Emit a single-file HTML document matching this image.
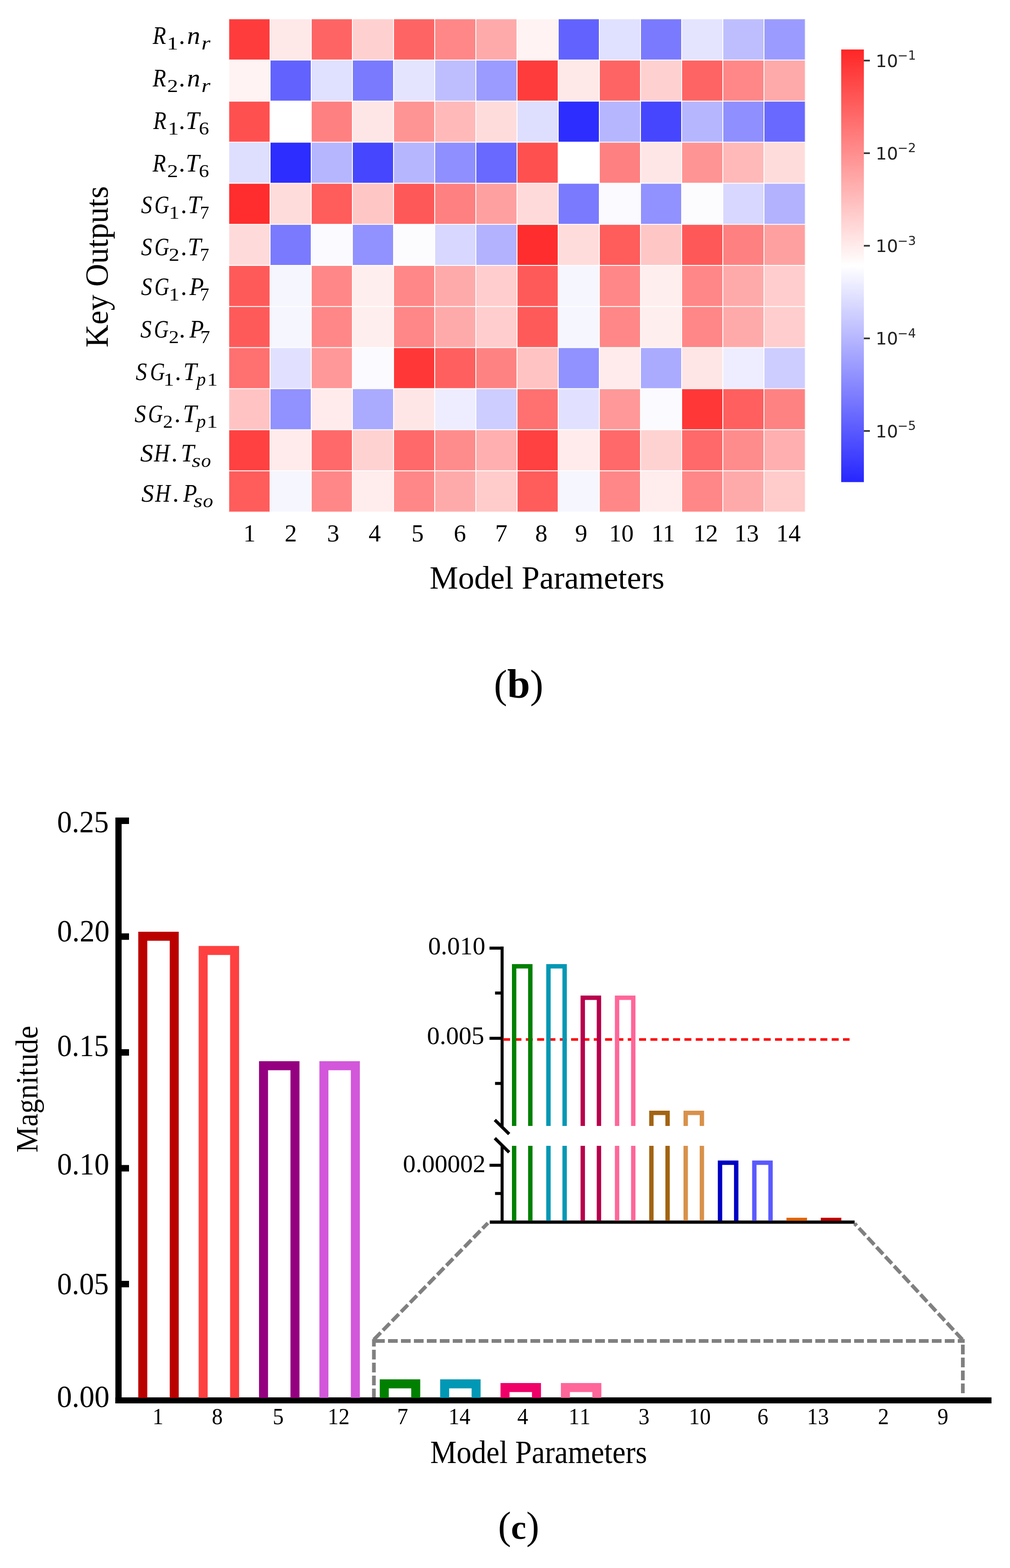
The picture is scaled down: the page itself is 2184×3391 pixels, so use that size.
<!DOCTYPE html>
<html><head><meta charset="utf-8"><title>Figure</title>
<style>
html,body{margin:0;padding:0;background:#fff;}
body{width:2184px;height:3391px;overflow:hidden;}
svg{display:block;}
</style></head>
<body>
<svg width="2184" height="3391" viewBox="0 0 2184 3391">
<rect width="2184" height="3391" fill="#fff"/>
<g id="heat">
<rect x="495.00" y="41.00" width="89.30" height="89.13" fill="#ff3c3c"/>
<rect x="584.00" y="41.00" width="89.30" height="89.13" fill="#ffe8e8"/>
<rect x="673.00" y="41.00" width="89.30" height="89.13" fill="#ff6464"/>
<rect x="762.00" y="41.00" width="89.30" height="89.13" fill="#ffd0d0"/>
<rect x="851.00" y="41.00" width="89.30" height="89.13" fill="#ff6464"/>
<rect x="940.00" y="41.00" width="89.30" height="89.13" fill="#ff8787"/>
<rect x="1029.00" y="41.00" width="89.30" height="89.13" fill="#ffaaaa"/>
<rect x="1118.00" y="41.00" width="89.30" height="89.13" fill="#fff3f3"/>
<rect x="1207.00" y="41.00" width="89.30" height="89.13" fill="#6262ff"/>
<rect x="1296.00" y="41.00" width="89.30" height="89.13" fill="#e0e0ff"/>
<rect x="1385.00" y="41.00" width="89.30" height="89.13" fill="#7a7aff"/>
<rect x="1474.00" y="41.00" width="89.30" height="89.13" fill="#e4e4ff"/>
<rect x="1563.00" y="41.00" width="89.30" height="89.13" fill="#bebeff"/>
<rect x="1652.00" y="41.00" width="89.30" height="89.13" fill="#9b9bff"/>
<rect x="495.00" y="129.83" width="89.30" height="89.13" fill="#fff3f3"/>
<rect x="584.00" y="129.83" width="89.30" height="89.13" fill="#6262ff"/>
<rect x="673.00" y="129.83" width="89.30" height="89.13" fill="#e0e0ff"/>
<rect x="762.00" y="129.83" width="89.30" height="89.13" fill="#7a7aff"/>
<rect x="851.00" y="129.83" width="89.30" height="89.13" fill="#e4e4ff"/>
<rect x="940.00" y="129.83" width="89.30" height="89.13" fill="#bebeff"/>
<rect x="1029.00" y="129.83" width="89.30" height="89.13" fill="#9b9bff"/>
<rect x="1118.00" y="129.83" width="89.30" height="89.13" fill="#ff3c3c"/>
<rect x="1207.00" y="129.83" width="89.30" height="89.13" fill="#ffe8e8"/>
<rect x="1296.00" y="129.83" width="89.30" height="89.13" fill="#ff6464"/>
<rect x="1385.00" y="129.83" width="89.30" height="89.13" fill="#ffd0d0"/>
<rect x="1474.00" y="129.83" width="89.30" height="89.13" fill="#ff6464"/>
<rect x="1563.00" y="129.83" width="89.30" height="89.13" fill="#ff8787"/>
<rect x="1652.00" y="129.83" width="89.30" height="89.13" fill="#ffaaaa"/>
<rect x="495.00" y="218.67" width="89.30" height="89.13" fill="#ff5050"/>
<rect x="584.00" y="218.67" width="89.30" height="89.13" fill="#ffffff"/>
<rect x="673.00" y="218.67" width="89.30" height="89.13" fill="#ff8080"/>
<rect x="762.00" y="218.67" width="89.30" height="89.13" fill="#ffe6e6"/>
<rect x="851.00" y="218.67" width="89.30" height="89.13" fill="#ff9494"/>
<rect x="940.00" y="218.67" width="89.30" height="89.13" fill="#ffb9b9"/>
<rect x="1029.00" y="218.67" width="89.30" height="89.13" fill="#ffdcdc"/>
<rect x="1118.00" y="218.67" width="89.30" height="89.13" fill="#dedeff"/>
<rect x="1207.00" y="218.67" width="89.30" height="89.13" fill="#2d2dff"/>
<rect x="1296.00" y="218.67" width="89.30" height="89.13" fill="#b6b6ff"/>
<rect x="1385.00" y="218.67" width="89.30" height="89.13" fill="#4646ff"/>
<rect x="1474.00" y="218.67" width="89.30" height="89.13" fill="#b6b6ff"/>
<rect x="1563.00" y="218.67" width="89.30" height="89.13" fill="#8f8fff"/>
<rect x="1652.00" y="218.67" width="89.30" height="89.13" fill="#6969ff"/>
<rect x="495.00" y="307.50" width="89.30" height="89.13" fill="#dedeff"/>
<rect x="584.00" y="307.50" width="89.30" height="89.13" fill="#2d2dff"/>
<rect x="673.00" y="307.50" width="89.30" height="89.13" fill="#b6b6ff"/>
<rect x="762.00" y="307.50" width="89.30" height="89.13" fill="#4646ff"/>
<rect x="851.00" y="307.50" width="89.30" height="89.13" fill="#b6b6ff"/>
<rect x="940.00" y="307.50" width="89.30" height="89.13" fill="#8f8fff"/>
<rect x="1029.00" y="307.50" width="89.30" height="89.13" fill="#6969ff"/>
<rect x="1118.00" y="307.50" width="89.30" height="89.13" fill="#ff5050"/>
<rect x="1207.00" y="307.50" width="89.30" height="89.13" fill="#ffffff"/>
<rect x="1296.00" y="307.50" width="89.30" height="89.13" fill="#ff8080"/>
<rect x="1385.00" y="307.50" width="89.30" height="89.13" fill="#ffe6e6"/>
<rect x="1474.00" y="307.50" width="89.30" height="89.13" fill="#ff9494"/>
<rect x="1563.00" y="307.50" width="89.30" height="89.13" fill="#ffb9b9"/>
<rect x="1652.00" y="307.50" width="89.30" height="89.13" fill="#ffdcdc"/>
<rect x="495.00" y="396.33" width="89.30" height="89.13" fill="#ff2d2d"/>
<rect x="584.00" y="396.33" width="89.30" height="89.13" fill="#ffdcdc"/>
<rect x="673.00" y="396.33" width="89.30" height="89.13" fill="#ff5c5c"/>
<rect x="762.00" y="396.33" width="89.30" height="89.13" fill="#ffc6c6"/>
<rect x="851.00" y="396.33" width="89.30" height="89.13" fill="#ff5858"/>
<rect x="940.00" y="396.33" width="89.30" height="89.13" fill="#ff8080"/>
<rect x="1029.00" y="396.33" width="89.30" height="89.13" fill="#ffa0a0"/>
<rect x="1118.00" y="396.33" width="89.30" height="89.13" fill="#ffdada"/>
<rect x="1207.00" y="396.33" width="89.30" height="89.13" fill="#7a7aff"/>
<rect x="1296.00" y="396.33" width="89.30" height="89.13" fill="#fafaff"/>
<rect x="1385.00" y="396.33" width="89.30" height="89.13" fill="#9191ff"/>
<rect x="1474.00" y="396.33" width="89.30" height="89.13" fill="#fcfcff"/>
<rect x="1563.00" y="396.33" width="89.30" height="89.13" fill="#d7d7ff"/>
<rect x="1652.00" y="396.33" width="89.30" height="89.13" fill="#b2b2ff"/>
<rect x="495.00" y="485.17" width="89.30" height="89.13" fill="#ffdada"/>
<rect x="584.00" y="485.17" width="89.30" height="89.13" fill="#7a7aff"/>
<rect x="673.00" y="485.17" width="89.30" height="89.13" fill="#fafaff"/>
<rect x="762.00" y="485.17" width="89.30" height="89.13" fill="#9191ff"/>
<rect x="851.00" y="485.17" width="89.30" height="89.13" fill="#fcfcff"/>
<rect x="940.00" y="485.17" width="89.30" height="89.13" fill="#d7d7ff"/>
<rect x="1029.00" y="485.17" width="89.30" height="89.13" fill="#b2b2ff"/>
<rect x="1118.00" y="485.17" width="89.30" height="89.13" fill="#ff2d2d"/>
<rect x="1207.00" y="485.17" width="89.30" height="89.13" fill="#ffdcdc"/>
<rect x="1296.00" y="485.17" width="89.30" height="89.13" fill="#ff5c5c"/>
<rect x="1385.00" y="485.17" width="89.30" height="89.13" fill="#ffc6c6"/>
<rect x="1474.00" y="485.17" width="89.30" height="89.13" fill="#ff5858"/>
<rect x="1563.00" y="485.17" width="89.30" height="89.13" fill="#ff8080"/>
<rect x="1652.00" y="485.17" width="89.30" height="89.13" fill="#ffa0a0"/>
<rect x="495.00" y="574.00" width="89.30" height="89.13" fill="#ff5a5a"/>
<rect x="584.00" y="574.00" width="89.30" height="89.13" fill="#f6f6ff"/>
<rect x="673.00" y="574.00" width="89.30" height="89.13" fill="#ff8787"/>
<rect x="762.00" y="574.00" width="89.30" height="89.13" fill="#ffeeee"/>
<rect x="851.00" y="574.00" width="89.30" height="89.13" fill="#ff8787"/>
<rect x="940.00" y="574.00" width="89.30" height="89.13" fill="#ffaaaa"/>
<rect x="1029.00" y="574.00" width="89.30" height="89.13" fill="#ffcdcd"/>
<rect x="1118.00" y="574.00" width="89.30" height="89.13" fill="#ff5a5a"/>
<rect x="1207.00" y="574.00" width="89.30" height="89.13" fill="#f6f6ff"/>
<rect x="1296.00" y="574.00" width="89.30" height="89.13" fill="#ff8787"/>
<rect x="1385.00" y="574.00" width="89.30" height="89.13" fill="#ffeeee"/>
<rect x="1474.00" y="574.00" width="89.30" height="89.13" fill="#ff8787"/>
<rect x="1563.00" y="574.00" width="89.30" height="89.13" fill="#ffaaaa"/>
<rect x="1652.00" y="574.00" width="89.30" height="89.13" fill="#ffcdcd"/>
<rect x="495.00" y="662.83" width="89.30" height="89.13" fill="#ff5a5a"/>
<rect x="584.00" y="662.83" width="89.30" height="89.13" fill="#f6f6ff"/>
<rect x="673.00" y="662.83" width="89.30" height="89.13" fill="#ff8787"/>
<rect x="762.00" y="662.83" width="89.30" height="89.13" fill="#ffeeee"/>
<rect x="851.00" y="662.83" width="89.30" height="89.13" fill="#ff8787"/>
<rect x="940.00" y="662.83" width="89.30" height="89.13" fill="#ffaaaa"/>
<rect x="1029.00" y="662.83" width="89.30" height="89.13" fill="#ffcdcd"/>
<rect x="1118.00" y="662.83" width="89.30" height="89.13" fill="#ff5a5a"/>
<rect x="1207.00" y="662.83" width="89.30" height="89.13" fill="#f6f6ff"/>
<rect x="1296.00" y="662.83" width="89.30" height="89.13" fill="#ff8787"/>
<rect x="1385.00" y="662.83" width="89.30" height="89.13" fill="#ffeeee"/>
<rect x="1474.00" y="662.83" width="89.30" height="89.13" fill="#ff8787"/>
<rect x="1563.00" y="662.83" width="89.30" height="89.13" fill="#ffaaaa"/>
<rect x="1652.00" y="662.83" width="89.30" height="89.13" fill="#ffcdcd"/>
<rect x="495.00" y="751.67" width="89.30" height="89.13" fill="#ff7070"/>
<rect x="584.00" y="751.67" width="89.30" height="89.13" fill="#e1e1ff"/>
<rect x="673.00" y="751.67" width="89.30" height="89.13" fill="#ff9898"/>
<rect x="762.00" y="751.67" width="89.30" height="89.13" fill="#fafaff"/>
<rect x="851.00" y="751.67" width="89.30" height="89.13" fill="#ff3737"/>
<rect x="940.00" y="751.67" width="89.30" height="89.13" fill="#ff5f5f"/>
<rect x="1029.00" y="751.67" width="89.30" height="89.13" fill="#ff8282"/>
<rect x="1118.00" y="751.67" width="89.30" height="89.13" fill="#ffc3c3"/>
<rect x="1207.00" y="751.67" width="89.30" height="89.13" fill="#9191ff"/>
<rect x="1296.00" y="751.67" width="89.30" height="89.13" fill="#ffebeb"/>
<rect x="1385.00" y="751.67" width="89.30" height="89.13" fill="#aaaaff"/>
<rect x="1474.00" y="751.67" width="89.30" height="89.13" fill="#ffe6e6"/>
<rect x="1563.00" y="751.67" width="89.30" height="89.13" fill="#ededff"/>
<rect x="1652.00" y="751.67" width="89.30" height="89.13" fill="#cdcdff"/>
<rect x="495.00" y="840.50" width="89.30" height="89.13" fill="#ffc3c3"/>
<rect x="584.00" y="840.50" width="89.30" height="89.13" fill="#9191ff"/>
<rect x="673.00" y="840.50" width="89.30" height="89.13" fill="#ffebeb"/>
<rect x="762.00" y="840.50" width="89.30" height="89.13" fill="#aaaaff"/>
<rect x="851.00" y="840.50" width="89.30" height="89.13" fill="#ffe6e6"/>
<rect x="940.00" y="840.50" width="89.30" height="89.13" fill="#ededff"/>
<rect x="1029.00" y="840.50" width="89.30" height="89.13" fill="#cdcdff"/>
<rect x="1118.00" y="840.50" width="89.30" height="89.13" fill="#ff7070"/>
<rect x="1207.00" y="840.50" width="89.30" height="89.13" fill="#e1e1ff"/>
<rect x="1296.00" y="840.50" width="89.30" height="89.13" fill="#ff9898"/>
<rect x="1385.00" y="840.50" width="89.30" height="89.13" fill="#fafaff"/>
<rect x="1474.00" y="840.50" width="89.30" height="89.13" fill="#ff3737"/>
<rect x="1563.00" y="840.50" width="89.30" height="89.13" fill="#ff5f5f"/>
<rect x="1652.00" y="840.50" width="89.30" height="89.13" fill="#ff8282"/>
<rect x="495.00" y="929.33" width="89.30" height="89.13" fill="#ff4141"/>
<rect x="584.00" y="929.33" width="89.30" height="89.13" fill="#ffebeb"/>
<rect x="673.00" y="929.33" width="89.30" height="89.13" fill="#ff6969"/>
<rect x="762.00" y="929.33" width="89.30" height="89.13" fill="#ffd2d2"/>
<rect x="851.00" y="929.33" width="89.30" height="89.13" fill="#ff6969"/>
<rect x="940.00" y="929.33" width="89.30" height="89.13" fill="#ff8c8c"/>
<rect x="1029.00" y="929.33" width="89.30" height="89.13" fill="#ffafaf"/>
<rect x="1118.00" y="929.33" width="89.30" height="89.13" fill="#ff4141"/>
<rect x="1207.00" y="929.33" width="89.30" height="89.13" fill="#ffebeb"/>
<rect x="1296.00" y="929.33" width="89.30" height="89.13" fill="#ff6969"/>
<rect x="1385.00" y="929.33" width="89.30" height="89.13" fill="#ffd2d2"/>
<rect x="1474.00" y="929.33" width="89.30" height="89.13" fill="#ff6969"/>
<rect x="1563.00" y="929.33" width="89.30" height="89.13" fill="#ff8c8c"/>
<rect x="1652.00" y="929.33" width="89.30" height="89.13" fill="#ffafaf"/>
<rect x="495.00" y="1018.17" width="89.30" height="89.13" fill="#ff5c5c"/>
<rect x="584.00" y="1018.17" width="89.30" height="89.13" fill="#f6f6ff"/>
<rect x="673.00" y="1018.17" width="89.30" height="89.13" fill="#ff8787"/>
<rect x="762.00" y="1018.17" width="89.30" height="89.13" fill="#ffecec"/>
<rect x="851.00" y="1018.17" width="89.30" height="89.13" fill="#ff8787"/>
<rect x="940.00" y="1018.17" width="89.30" height="89.13" fill="#ffaaaa"/>
<rect x="1029.00" y="1018.17" width="89.30" height="89.13" fill="#ffcbcb"/>
<rect x="1118.00" y="1018.17" width="89.30" height="89.13" fill="#ff5c5c"/>
<rect x="1207.00" y="1018.17" width="89.30" height="89.13" fill="#f6f6ff"/>
<rect x="1296.00" y="1018.17" width="89.30" height="89.13" fill="#ff8787"/>
<rect x="1385.00" y="1018.17" width="89.30" height="89.13" fill="#ffecec"/>
<rect x="1474.00" y="1018.17" width="89.30" height="89.13" fill="#ff8787"/>
<rect x="1563.00" y="1018.17" width="89.30" height="89.13" fill="#ffaaaa"/>
<rect x="1652.00" y="1018.17" width="89.30" height="89.13" fill="#ffcbcb"/>
<rect x="583.00" y="41.00" width="2" height="1066.00" fill="#fff"/>
<rect x="672.00" y="41.00" width="2" height="1066.00" fill="#fff"/>
<rect x="761.00" y="41.00" width="2" height="1066.00" fill="#fff"/>
<rect x="850.00" y="41.00" width="2" height="1066.00" fill="#fff"/>
<rect x="939.00" y="41.00" width="2" height="1066.00" fill="#fff"/>
<rect x="1028.00" y="41.00" width="2" height="1066.00" fill="#fff"/>
<rect x="1117.00" y="41.00" width="2" height="1066.00" fill="#fff"/>
<rect x="1206.00" y="41.00" width="2" height="1066.00" fill="#fff"/>
<rect x="1295.00" y="41.00" width="2" height="1066.00" fill="#fff"/>
<rect x="1384.00" y="41.00" width="2" height="1066.00" fill="#fff"/>
<rect x="1473.00" y="41.00" width="2" height="1066.00" fill="#fff"/>
<rect x="1562.00" y="41.00" width="2" height="1066.00" fill="#fff"/>
<rect x="1651.00" y="41.00" width="2" height="1066.00" fill="#fff"/>
<rect x="495.00" y="128.83" width="1246.00" height="2" fill="#fff"/>
<rect x="495.00" y="217.67" width="1246.00" height="2" fill="#fff"/>
<rect x="495.00" y="306.50" width="1246.00" height="2" fill="#fff"/>
<rect x="495.00" y="395.33" width="1246.00" height="2" fill="#fff"/>
<rect x="495.00" y="484.17" width="1246.00" height="2" fill="#fff"/>
<rect x="495.00" y="573.00" width="1246.00" height="2" fill="#fff"/>
<rect x="495.00" y="661.83" width="1246.00" height="2" fill="#fff"/>
<rect x="495.00" y="750.67" width="1246.00" height="2" fill="#fff"/>
<rect x="495.00" y="839.50" width="1246.00" height="2" fill="#fff"/>
<rect x="495.00" y="928.33" width="1246.00" height="2" fill="#fff"/>
<rect x="495.00" y="1017.17" width="1246.00" height="2" fill="#fff"/>
<rect x="495.00" y="41.00" width="1246.00" height="1066.00" fill="none" stroke="#fff" stroke-opacity="0.55" stroke-width="2"/>
</g>
<g font-family="'Liberation Serif', serif" fill="#000">
<text><tspan x="330.3" y="95.0" font-size="55" font-style="italic" textLength="28.83" lengthAdjust="spacingAndGlyphs">R</tspan><tspan x="360.7" y="107.0" font-size="40" textLength="24.71" lengthAdjust="spacingAndGlyphs">1</tspan><tspan x="386.4" y="95.0" font-size="55" textLength="13.75" lengthAdjust="spacingAndGlyphs">.</tspan><tspan x="404.4" y="95.0" font-size="55" font-style="italic" textLength="28.50" lengthAdjust="spacingAndGlyphs">n</tspan><tspan x="435.4" y="107.0" font-size="40" font-style="italic" textLength="19.46" lengthAdjust="spacingAndGlyphs">r</tspan></text>
<text><tspan x="330.3" y="186.8" font-size="55" font-style="italic" textLength="28.83" lengthAdjust="spacingAndGlyphs">R</tspan><tspan x="361.4" y="198.8" font-size="40" textLength="23.57" lengthAdjust="spacingAndGlyphs">2</tspan><tspan x="386.4" y="186.8" font-size="55" textLength="13.75" lengthAdjust="spacingAndGlyphs">.</tspan><tspan x="404.4" y="186.8" font-size="55" font-style="italic" textLength="28.50" lengthAdjust="spacingAndGlyphs">n</tspan><tspan x="435.4" y="198.8" font-size="40" font-style="italic" textLength="19.46" lengthAdjust="spacingAndGlyphs">r</tspan></text>
<text><tspan x="331.4" y="279.4" font-size="55" font-style="italic" textLength="28.32" lengthAdjust="spacingAndGlyphs">R</tspan><tspan x="362.8" y="291.4" font-size="40" textLength="24.00" lengthAdjust="spacingAndGlyphs">1</tspan><tspan x="386.4" y="279.4" font-size="55" textLength="13.75" lengthAdjust="spacingAndGlyphs">.</tspan><tspan x="401.5" y="279.4" font-size="55" font-style="italic" textLength="29.64" lengthAdjust="spacingAndGlyphs">T</tspan><tspan x="430.1" y="291.4" font-size="40" textLength="22.12" lengthAdjust="spacingAndGlyphs">6</tspan></text>
<text><tspan x="330.0" y="371.0" font-size="55" font-style="italic" textLength="28.83" lengthAdjust="spacingAndGlyphs">R</tspan><tspan x="361.4" y="383.0" font-size="40" textLength="23.57" lengthAdjust="spacingAndGlyphs">2</tspan><tspan x="386.4" y="371.0" font-size="55" textLength="13.75" lengthAdjust="spacingAndGlyphs">.</tspan><tspan x="401.5" y="371.0" font-size="55" font-style="italic" textLength="29.64" lengthAdjust="spacingAndGlyphs">T</tspan><tspan x="430.1" y="383.0" font-size="40" textLength="22.12" lengthAdjust="spacingAndGlyphs">6</tspan></text>
<text><tspan x="305.0" y="461.0" font-size="55" font-style="italic" textLength="24.04" lengthAdjust="spacingAndGlyphs">S</tspan><tspan x="333.9" y="461.0" font-size="55" font-style="italic" textLength="32.00" lengthAdjust="spacingAndGlyphs">G</tspan><tspan x="365.3" y="473.0" font-size="40" textLength="22.87" lengthAdjust="spacingAndGlyphs">1</tspan><tspan x="390.5" y="461.0" font-size="55" textLength="13.75" lengthAdjust="spacingAndGlyphs">.</tspan><tspan x="406.1" y="461.0" font-size="55" font-style="italic" textLength="28.83" lengthAdjust="spacingAndGlyphs">T</tspan><tspan x="432.4" y="473.0" font-size="40" textLength="19.74" lengthAdjust="spacingAndGlyphs">7</tspan></text>
<text><tspan x="305.0" y="552.4" font-size="55" font-style="italic" textLength="24.04" lengthAdjust="spacingAndGlyphs">S</tspan><tspan x="333.9" y="552.4" font-size="55" font-style="italic" textLength="32.00" lengthAdjust="spacingAndGlyphs">G</tspan><tspan x="365.0" y="564.4" font-size="40" textLength="22.95" lengthAdjust="spacingAndGlyphs">2</tspan><tspan x="390.5" y="552.4" font-size="55" textLength="13.75" lengthAdjust="spacingAndGlyphs">.</tspan><tspan x="406.1" y="552.4" font-size="55" font-style="italic" textLength="28.83" lengthAdjust="spacingAndGlyphs">T</tspan><tspan x="432.4" y="564.4" font-size="40" textLength="19.74" lengthAdjust="spacingAndGlyphs">7</tspan></text>
<text><tspan x="305.0" y="638.0" font-size="55" font-style="italic" textLength="24.04" lengthAdjust="spacingAndGlyphs">S</tspan><tspan x="333.9" y="638.0" font-size="55" font-style="italic" textLength="32.00" lengthAdjust="spacingAndGlyphs">G</tspan><tspan x="365.3" y="650.0" font-size="40" textLength="22.87" lengthAdjust="spacingAndGlyphs">1</tspan><tspan x="390.5" y="638.0" font-size="55" textLength="13.75" lengthAdjust="spacingAndGlyphs">.</tspan><tspan x="409.8" y="638.0" font-size="55" font-style="italic" textLength="31.02" lengthAdjust="spacingAndGlyphs">P</tspan><tspan x="432.4" y="650.0" font-size="40" textLength="19.74" lengthAdjust="spacingAndGlyphs">7</tspan></text>
<text><tspan x="303.4" y="729.5" font-size="55" font-style="italic" textLength="24.36" lengthAdjust="spacingAndGlyphs">S</tspan><tspan x="332.9" y="729.5" font-size="55" font-style="italic" textLength="31.78" lengthAdjust="spacingAndGlyphs">G</tspan><tspan x="365.1" y="741.5" font-size="40" textLength="21.95" lengthAdjust="spacingAndGlyphs">2</tspan><tspan x="387.1" y="729.5" font-size="55" textLength="13.75" lengthAdjust="spacingAndGlyphs">.</tspan><tspan x="409.8" y="729.5" font-size="55" font-style="italic" textLength="31.02" lengthAdjust="spacingAndGlyphs">P</tspan><tspan x="433.2" y="741.5" font-size="40" textLength="20.97" lengthAdjust="spacingAndGlyphs">7</tspan></text>
<text><tspan x="293.4" y="822.0" font-size="55" font-style="italic" textLength="24.36" lengthAdjust="spacingAndGlyphs">S</tspan><tspan x="324.5" y="822.0" font-size="55" font-style="italic" textLength="32.22" lengthAdjust="spacingAndGlyphs">G</tspan><tspan x="353.4" y="834.0" font-size="40" textLength="23.01" lengthAdjust="spacingAndGlyphs">1</tspan><tspan x="378.0" y="822.0" font-size="55" textLength="13.75" lengthAdjust="spacingAndGlyphs">.</tspan><tspan x="396.6" y="822.0" font-size="55" font-style="italic" textLength="28.93" lengthAdjust="spacingAndGlyphs">T</tspan><tspan x="425.3" y="834.0" font-size="40" font-style="italic" textLength="19.87" lengthAdjust="spacingAndGlyphs">p</tspan><tspan x="447.8" y="834.0" font-size="40" textLength="23.01" lengthAdjust="spacingAndGlyphs">1</tspan></text>
<text><tspan x="291.0" y="912.5" font-size="55" font-style="italic" textLength="24.78" lengthAdjust="spacingAndGlyphs">S</tspan><tspan x="320.2" y="912.5" font-size="55" font-style="italic" textLength="32.00" lengthAdjust="spacingAndGlyphs">G</tspan><tspan x="352.4" y="924.5" font-size="40" textLength="21.20" lengthAdjust="spacingAndGlyphs">2</tspan><tspan x="376.8" y="912.5" font-size="55" textLength="13.75" lengthAdjust="spacingAndGlyphs">.</tspan><tspan x="395.5" y="912.5" font-size="55" font-style="italic" textLength="29.94" lengthAdjust="spacingAndGlyphs">T</tspan><tspan x="424.8" y="924.5" font-size="40" font-style="italic" textLength="20.44" lengthAdjust="spacingAndGlyphs">p</tspan><tspan x="446.8" y="924.5" font-size="40" textLength="24.14" lengthAdjust="spacingAndGlyphs">1</tspan></text>
<text><tspan x="303.3" y="998.4" font-size="55" font-style="italic" textLength="27.85" lengthAdjust="spacingAndGlyphs">S</tspan><tspan x="333.1" y="998.4" font-size="55" font-style="italic" textLength="33.80" lengthAdjust="spacingAndGlyphs">H</tspan><tspan x="370.2" y="998.4" font-size="55" textLength="13.75" lengthAdjust="spacingAndGlyphs">.</tspan><tspan x="391.1" y="998.4" font-size="55" font-style="italic" textLength="28.83" lengthAdjust="spacingAndGlyphs">T</tspan><tspan x="414.6" y="1010.4" font-size="40" font-style="italic" textLength="19.46" lengthAdjust="spacingAndGlyphs">s</tspan><tspan x="435.0" y="1010.4" font-size="40" font-style="italic" textLength="21.23" lengthAdjust="spacingAndGlyphs">o</tspan></text>
<text><tspan x="305.7" y="1085.0" font-size="55" font-style="italic" textLength="27.00" lengthAdjust="spacingAndGlyphs">S</tspan><tspan x="335.5" y="1085.0" font-size="55" font-style="italic" textLength="32.96" lengthAdjust="spacingAndGlyphs">H</tspan><tspan x="373.0" y="1085.0" font-size="55" textLength="13.75" lengthAdjust="spacingAndGlyphs">.</tspan><tspan x="396.3" y="1085.0" font-size="55" font-style="italic" textLength="29.67" lengthAdjust="spacingAndGlyphs">P</tspan><tspan x="418.5" y="1097.0" font-size="40" font-style="italic" textLength="19.46" lengthAdjust="spacingAndGlyphs">s</tspan><tspan x="438.7" y="1097.0" font-size="40" font-style="italic" textLength="22.14" lengthAdjust="spacingAndGlyphs">o</tspan></text>
</g>
<g font-family="'Liberation Serif', 'Times New Roman', serif" font-size="53" fill="#000" text-anchor="middle">
<text x="539.6" y="1170.6">1</text>
<text x="628.8" y="1170.6">2</text>
<text x="720.6" y="1170.6">3</text>
<text x="810.3" y="1170.6">4</text>
<text x="903.0" y="1170.6">5</text>
<text x="994.4" y="1170.6">6</text>
<text x="1084.0" y="1170.6">7</text>
<text x="1170.6" y="1170.6">8</text>
<text x="1256.8" y="1170.6">9</text>
<text x="1343.7" y="1170.6">10</text>
<text x="1434.3" y="1170.6">11</text>
<text x="1526.1" y="1170.6">12</text>
<text x="1614.4" y="1170.6">13</text>
<text x="1705.0" y="1170.6">14</text>
</g>
<text transform="translate(929.00 1272.70) scale(1.0009 1)" font-family="'Liberation Serif', 'Times New Roman', serif" font-size="69.5" style="font-kerning:none">Model Parameters</text>
<text transform="translate(233.00 751.58) rotate(-90) scale(0.9909 1)" font-family="'Liberation Serif', 'Times New Roman', serif" font-size="69.3" style="font-kerning:none">Key Outputs</text>
<defs><linearGradient id="cb" x1="0" y1="0" x2="0" y2="1"><stop offset="0" stop-color="#ff2626"/><stop offset="0.5" stop-color="#ffffff"/><stop offset="1" stop-color="#2626ff"/></linearGradient></defs>
<rect x="1819.0" y="107.0" width="49.0" height="935.6" fill="url(#cb)"/>
<g font-family="'DejaVu Sans', sans-serif" fill="#222">
<rect x="1868.0" y="129.2" width="13" height="3.6" fill="#333"/>
<text x="1893.5" y="144.5" font-size="38">10<tspan font-size="27" dx="-1" dy="-15.5">−1</tspan></text>
<rect x="1868.0" y="329.5" width="13" height="3.6" fill="#333"/>
<text x="1893.5" y="344.8" font-size="38">10<tspan font-size="27" dx="-1" dy="-15.5">−2</tspan></text>
<rect x="1868.0" y="529.7" width="13" height="3.6" fill="#333"/>
<text x="1893.5" y="545.0" font-size="38">10<tspan font-size="27" dx="-1" dy="-15.5">−3</tspan></text>
<rect x="1868.0" y="730.0" width="13" height="3.6" fill="#333"/>
<text x="1893.5" y="745.3" font-size="38">10<tspan font-size="27" dx="-1" dy="-15.5">−4</tspan></text>
<rect x="1868.0" y="930.2" width="13" height="3.6" fill="#333"/>
<text x="1893.5" y="945.5" font-size="38">10<tspan font-size="27" dx="-1" dy="-15.5">−5</tspan></text>
</g>
<text x="1121.5" y="1508.7" font-family="'Liberation Serif', 'Times New Roman', serif" font-size="86" text-anchor="middle">(<tspan font-weight="bold" font-size="89">b</tspan>)</text>
<rect x="249.5" y="1768" width="13.5" height="1267" fill="#000"/>
<rect x="249.5" y="3022" width="1894.5" height="13" fill="#000"/>
<rect x="262" y="1768.0" width="17" height="14" fill="#000"/>
<text transform="translate(123.57 1799.50) scale(0.9449 1)" font-family="'Liberation Serif', 'Times New Roman', serif" font-size="67.5" style="font-kerning:none">0.25</text>
<rect x="262" y="2018.5" width="17" height="14" fill="#000"/>
<text transform="translate(123.53 2035.90) scale(0.9603 1)" font-family="'Liberation Serif', 'Times New Roman', serif" font-size="67.5" style="font-kerning:none">0.20</text>
<rect x="262" y="2269.0" width="17" height="14" fill="#000"/>
<text transform="translate(123.57 2283.90) scale(0.9449 1)" font-family="'Liberation Serif', 'Times New Roman', serif" font-size="67.5" style="font-kerning:none">0.15</text>
<rect x="262" y="2519.5" width="17" height="14" fill="#000"/>
<text transform="translate(123.55 2540.40) scale(0.9541 1)" font-family="'Liberation Serif', 'Times New Roman', serif" font-size="67.5" style="font-kerning:none">0.10</text>
<rect x="262" y="2770.0" width="17" height="14" fill="#000"/>
<text transform="translate(123.57 2798.60) scale(0.9449 1)" font-family="'Liberation Serif', 'Times New Roman', serif" font-size="67.5" style="font-kerning:none">0.05</text>
<text transform="translate(122.92 3043.40) scale(0.9647 1)" font-family="'Liberation Serif', 'Times New Roman', serif" font-size="67.5" style="font-kerning:none">0.00</text>
<text transform="translate(81.00 2492.62) rotate(-90) scale(0.9447 1)" font-family="'Liberation Serif', 'Times New Roman', serif" font-size="67" style="font-kerning:none">Magnitude</text>
<g fill="none">
<path d="M308.75 3023.00 V2024.75 H376.75 V3023.00" stroke="#bb0000" stroke-width="19.5" stroke-linejoin="miter"/>
<path d="M439.30 3023.00 V2055.45 H507.30 V3023.00" stroke="#ff4040" stroke-width="19.5" stroke-linejoin="miter"/>
<path d="M569.85 3023.00 V2304.75 H637.85 V3023.00" stroke="#950080" stroke-width="19.5" stroke-linejoin="miter"/>
<path d="M700.40 3023.00 V2304.75 H768.40 V3023.00" stroke="#d257da" stroke-width="19.5" stroke-linejoin="miter"/>
<path d="M830.95 3023.00 V2992.75 H898.95 V3023.00" stroke="#008000" stroke-width="19.5" stroke-linejoin="miter"/>
<path d="M961.50 3023.00 V2992.75 H1029.50 V3023.00" stroke="#0098b4" stroke-width="19.5" stroke-linejoin="miter"/>
<path d="M1092.05 3023.00 V3000.75 H1160.05 V3023.00" stroke="#ef0068" stroke-width="19.5" stroke-linejoin="miter"/>
<path d="M1222.60 3023.00 V3000.75 H1290.60 V3023.00" stroke="#ff6699" stroke-width="19.5" stroke-linejoin="miter"/>
</g>
<g font-family="'Liberation Serif', 'Times New Roman', serif" font-size="51" style="font-kerning:none">
<text transform="translate(329.68 3080.2) scale(0.930 1)">1</text>
<text transform="translate(457.94 3080.2) scale(0.930 1)">8</text>
<text transform="translate(589.69 3080.2) scale(0.930 1)">5</text>
<text transform="translate(708.61 3080.2) scale(0.930 1)">12</text>
<text transform="translate(858.86 3080.2) scale(0.930 1)">7</text>
<text transform="translate(969.77 3080.2) scale(0.930 1)">14</text>
<text transform="translate(1118.55 3080.2) scale(0.930 1)">4</text>
<text transform="translate(1229.42 3080.2) scale(0.930 1)">11</text>
<text transform="translate(1380.83 3080.2) scale(0.930 1)">3</text>
<text transform="translate(1489.50 3080.2) scale(0.930 1)">10</text>
<text transform="translate(1637.83 3080.2) scale(0.930 1)">6</text>
<text transform="translate(1744.93 3080.2) scale(0.930 1)">13</text>
<text transform="translate(1898.41 3080.2) scale(0.930 1)">2</text>
<text transform="translate(2027.05 3080.2) scale(0.930 1)">9</text>
</g>
<text transform="translate(930.15 3163.60) scale(0.9351 1)" font-family="'Liberation Serif', 'Times New Roman', serif" font-size="68.7" style="font-kerning:none">Model Parameters</text>
<text x="1121.5" y="3328.1" font-family="'Liberation Serif', 'Times New Roman', serif" font-size="84.3" text-anchor="middle">(<tspan font-weight="bold" font-size="74">c</tspan>)</text>
<g stroke="#808080" stroke-width="8" fill="none" stroke-dasharray="21 7">
<path d="M808.5 3022 V2896" stroke-dashoffset="2"/>
<path d="M808.5 2900 H2086" stroke-dashoffset="25.5"/>
<path d="M2082 2900 V3016" stroke-dashoffset="20"/>
<path d="M808.5 2897 L1055 2645"/>
<path d="M2081 2897 L1848 2646"/>
</g>
<rect x="1082.5" y="2047" width="6.5" height="389.0" fill="#000"/>
<rect x="1082.5" y="2476" width="6.5" height="167.0" fill="#000"/>
<rect x="1059" y="2639.5" width="789.0" height="7" fill="#000"/>
<rect x="1058.5" y="2047.2" width="25.0" height="6.5" fill="#000"/>
<rect x="1070.5" y="2144.3" width="13.0" height="6.5" fill="#000"/>
<rect x="1058.5" y="2242.2" width="25.0" height="6.5" fill="#000"/>
<rect x="1070.5" y="2339.8" width="13.0" height="6.5" fill="#000"/>
<rect x="1058.5" y="2516.8" width="25.0" height="6.5" fill="#000"/>
<rect x="1070.5" y="2577.8" width="13.0" height="6.5" fill="#000"/>
<g stroke="#000" stroke-width="6.8" fill="none"><path d="M1070 2422 L1101 2452.5"/><path d="M1070 2461.5 L1101 2492"/></g>
<g font-family="'Liberation Serif', 'Times New Roman', serif" font-size="55" text-anchor="end">
<text x="1049.5" y="2064">0.010</text>
<text x="1047" y="2258">0.005</text>
<text x="1050" y="2534.5">0.00002</text>
</g>
<path d="M1088 2248 H1837" stroke="#ff0000" stroke-width="5.5" stroke-dasharray="15 9.5" fill="none"/>
<g fill="none">
<path d="M1111.75 2435 V2089.75 H1146.75 V2435" stroke="#008000" stroke-width="9.5"/>
<path d="M1111.75 2478 V2640 M1146.75 2478 V2640" stroke="#008000" stroke-width="9.5"/>
<path d="M1185.95 2435 V2089.75 H1220.95 V2435" stroke="#0098b4" stroke-width="9.5"/>
<path d="M1185.95 2478 V2640 M1220.95 2478 V2640" stroke="#0098b4" stroke-width="9.5"/>
<path d="M1260.15 2435 V2157.75 H1295.15 V2435" stroke="#b8004c" stroke-width="9.5"/>
<path d="M1260.15 2478 V2640 M1295.15 2478 V2640" stroke="#b8004c" stroke-width="9.5"/>
<path d="M1334.35 2435 V2157.75 H1369.35 V2435" stroke="#ff6699" stroke-width="9.5"/>
<path d="M1334.35 2478 V2640 M1369.35 2478 V2640" stroke="#ff6699" stroke-width="9.5"/>
<path d="M1408.55 2435 V2406.75 H1443.55 V2435" stroke="#a36312" stroke-width="9.5"/>
<path d="M1408.55 2478 V2640 M1443.55 2478 V2640" stroke="#a36312" stroke-width="9.5"/>
<path d="M1482.75 2435 V2406.75 H1517.75 V2435" stroke="#d8914a" stroke-width="9.5"/>
<path d="M1482.75 2478 V2640 M1517.75 2478 V2640" stroke="#d8914a" stroke-width="9.5"/>
<path d="M1556.95 2640 V2514.45 H1591.95 V2640" stroke="#0000c4" stroke-width="9.5"/>
<path d="M1631.15 2640 V2514.45 H1666.15 V2640" stroke="#5a5aff" stroke-width="9.5"/>
<rect x="1700.60" y="2633.6" width="44.50" height="6.5" fill="#e06000"/>
<rect x="1774.80" y="2633.6" width="44.50" height="6.5" fill="#c00000"/>
</g>
</svg>
</body></html>
